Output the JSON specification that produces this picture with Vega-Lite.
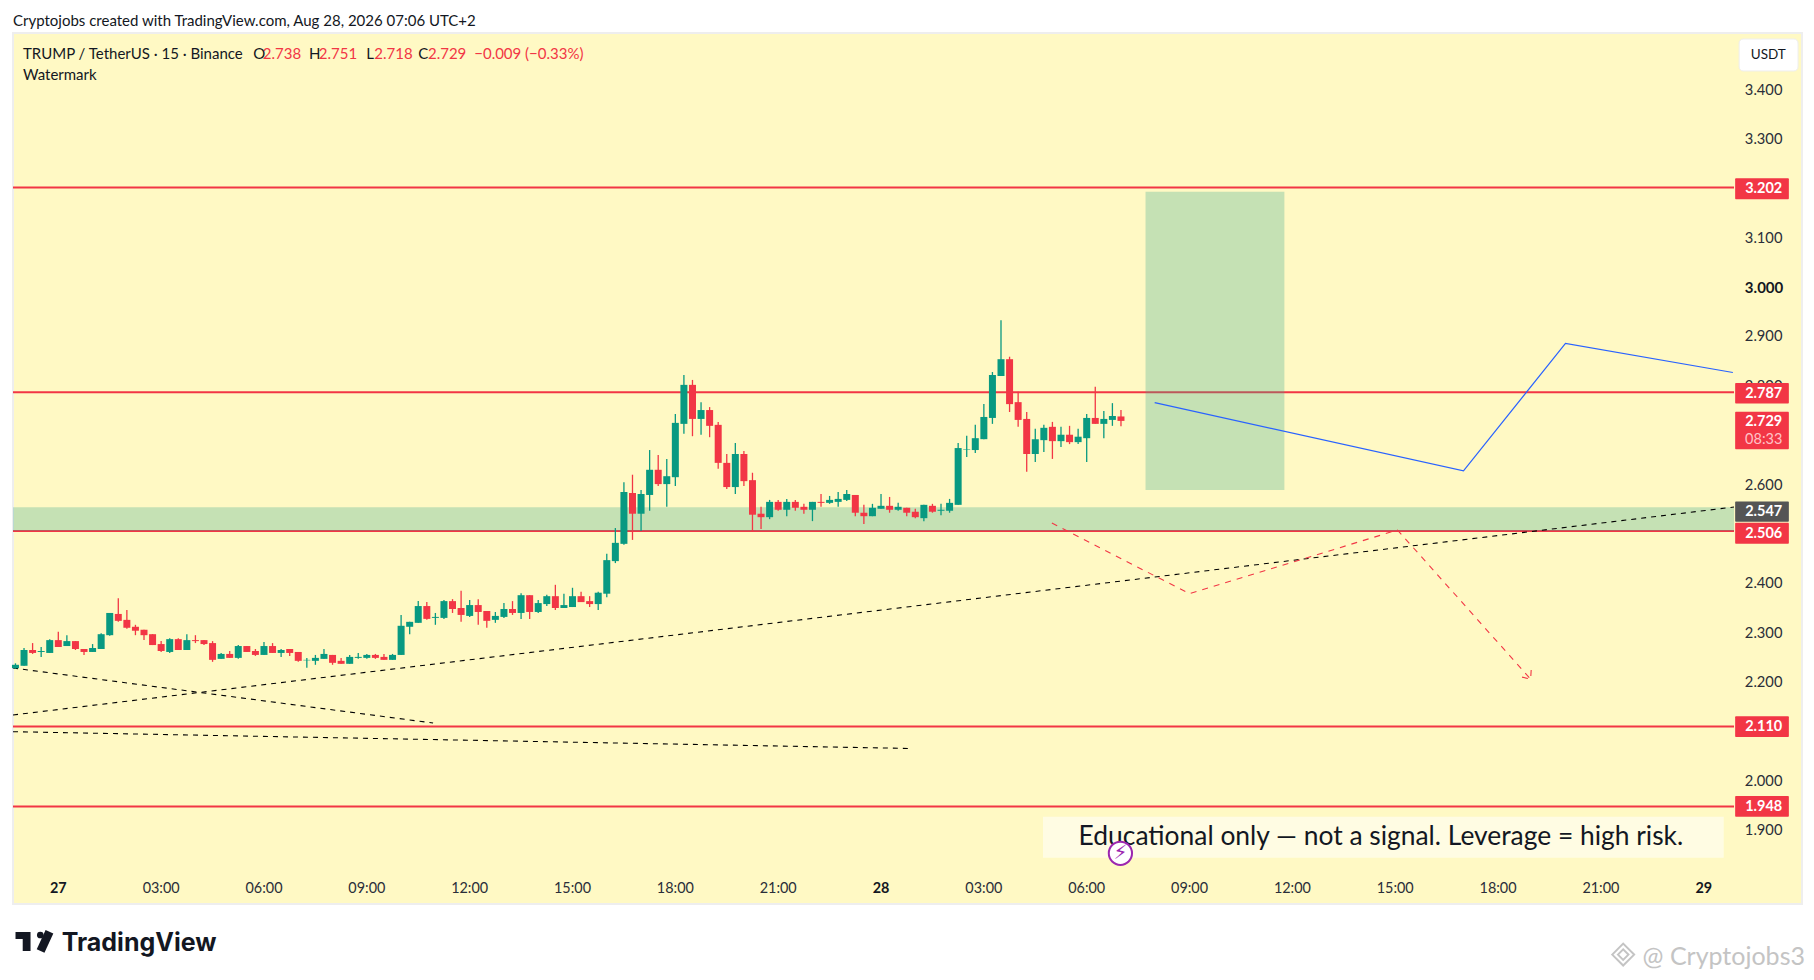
{
"$schema":"https://vega.github.io/schema/vega-lite/v6.json",
"autosize":{"type":"none"},
"padding":{"left":13,"top":33,"right":12,"bottom":76},
"width":1789,"height":871,
"background":"#ffffff",
"view":{"fill":"#FFF9C4","stroke":"#eeeeee","strokeWidth":2},
"datasets":{
"candles":[
{"t":"2026-08-26T22:45Z","o":2.228,"h":2.238,"l":2.227,"c":2.235},
{"t":"2026-08-26T23:00Z","o":2.233,"h":2.269,"l":2.233,"c":2.265},
{"t":"2026-08-26T23:15Z","o":2.265,"h":2.279,"l":2.257,"c":2.259},
{"t":"2026-08-26T23:30Z","o":2.261,"h":2.271,"l":2.251,"c":2.263},
{"t":"2026-08-26T23:45Z","o":2.259,"h":2.287,"l":2.259,"c":2.285},
{"t":"2026-08-27T00:00Z","o":2.285,"h":2.302,"l":2.271,"c":2.271},
{"t":"2026-08-27T00:15Z","o":2.273,"h":2.295,"l":2.273,"c":2.283},
{"t":"2026-08-27T00:30Z","o":2.283,"h":2.283,"l":2.265,"c":2.267},
{"t":"2026-08-27T00:45Z","o":2.267,"h":2.267,"l":2.255,"c":2.261},
{"t":"2026-08-27T01:00Z","o":2.261,"h":2.277,"l":2.261,"c":2.269},
{"t":"2026-08-27T01:15Z","o":2.267,"h":2.299,"l":2.267,"c":2.297},
{"t":"2026-08-27T01:30Z","o":2.295,"h":2.340,"l":2.294,"c":2.340},
{"t":"2026-08-27T01:45Z","o":2.338,"h":2.370,"l":2.322,"c":2.324},
{"t":"2026-08-27T02:00Z","o":2.326,"h":2.346,"l":2.308,"c":2.310},
{"t":"2026-08-27T02:15Z","o":2.312,"h":2.316,"l":2.295,"c":2.304},
{"t":"2026-08-27T02:30Z","o":2.306,"h":2.306,"l":2.285,"c":2.295},
{"t":"2026-08-27T02:45Z","o":2.297,"h":2.297,"l":2.275,"c":2.275},
{"t":"2026-08-27T03:00Z","o":2.277,"h":2.283,"l":2.261,"c":2.263},
{"t":"2026-08-27T03:15Z","o":2.261,"h":2.289,"l":2.259,"c":2.287},
{"t":"2026-08-27T03:30Z","o":2.287,"h":2.289,"l":2.265,"c":2.265},
{"t":"2026-08-27T03:45Z","o":2.265,"h":2.297,"l":2.265,"c":2.285},
{"t":"2026-08-27T04:00Z","o":2.285,"h":2.295,"l":2.279,"c":2.283},
{"t":"2026-08-27T04:15Z","o":2.285,"h":2.285,"l":2.275,"c":2.277},
{"t":"2026-08-27T04:30Z","o":2.279,"h":2.283,"l":2.241,"c":2.245},
{"t":"2026-08-27T04:45Z","o":2.247,"h":2.259,"l":2.247,"c":2.257},
{"t":"2026-08-27T05:00Z","o":2.257,"h":2.263,"l":2.249,"c":2.249},
{"t":"2026-08-27T05:15Z","o":2.249,"h":2.275,"l":2.247,"c":2.273},
{"t":"2026-08-27T05:30Z","o":2.273,"h":2.273,"l":2.261,"c":2.261},
{"t":"2026-08-27T05:45Z","o":2.263,"h":2.267,"l":2.253,"c":2.255},
{"t":"2026-08-27T06:00Z","o":2.255,"h":2.281,"l":2.255,"c":2.273},
{"t":"2026-08-27T06:15Z","o":2.273,"h":2.279,"l":2.259,"c":2.259},
{"t":"2026-08-27T06:30Z","o":2.259,"h":2.267,"l":2.251,"c":2.265},
{"t":"2026-08-27T06:45Z","o":2.267,"h":2.267,"l":2.253,"c":2.259},
{"t":"2026-08-27T07:00Z","o":2.261,"h":2.261,"l":2.241,"c":2.243},
{"t":"2026-08-27T07:15Z","o":2.244,"h":2.249,"l":2.229,"c":2.245},
{"t":"2026-08-27T07:30Z","o":2.243,"h":2.255,"l":2.235,"c":2.249},
{"t":"2026-08-27T07:45Z","o":2.247,"h":2.267,"l":2.247,"c":2.257},
{"t":"2026-08-27T08:00Z","o":2.255,"h":2.255,"l":2.235,"c":2.239},
{"t":"2026-08-27T08:15Z","o":2.243,"h":2.249,"l":2.237,"c":2.237},
{"t":"2026-08-27T08:30Z","o":2.237,"h":2.255,"l":2.237,"c":2.251},
{"t":"2026-08-27T08:45Z","o":2.249,"h":2.259,"l":2.247,"c":2.251},
{"t":"2026-08-27T09:00Z","o":2.249,"h":2.257,"l":2.247,"c":2.255},
{"t":"2026-08-27T09:15Z","o":2.255,"h":2.257,"l":2.247,"c":2.249},
{"t":"2026-08-27T09:30Z","o":2.251,"h":2.257,"l":2.245,"c":2.245},
{"t":"2026-08-27T09:45Z","o":2.245,"h":2.257,"l":2.245,"c":2.255},
{"t":"2026-08-27T10:00Z","o":2.255,"h":2.336,"l":2.255,"c":2.314},
{"t":"2026-08-27T10:15Z","o":2.312,"h":2.322,"l":2.297,"c":2.322},
{"t":"2026-08-27T10:30Z","o":2.320,"h":2.364,"l":2.320,"c":2.354},
{"t":"2026-08-27T10:45Z","o":2.354,"h":2.362,"l":2.326,"c":2.328},
{"t":"2026-08-27T11:00Z","o":2.330,"h":2.340,"l":2.316,"c":2.332},
{"t":"2026-08-27T11:15Z","o":2.330,"h":2.366,"l":2.328,"c":2.364},
{"t":"2026-08-27T11:30Z","o":2.364,"h":2.368,"l":2.340,"c":2.348},
{"t":"2026-08-27T11:45Z","o":2.350,"h":2.385,"l":2.322,"c":2.336},
{"t":"2026-08-27T12:00Z","o":2.334,"h":2.366,"l":2.332,"c":2.356},
{"t":"2026-08-27T12:15Z","o":2.356,"h":2.368,"l":2.316,"c":2.342},
{"t":"2026-08-27T12:30Z","o":2.344,"h":2.344,"l":2.310,"c":2.324},
{"t":"2026-08-27T12:45Z","o":2.326,"h":2.342,"l":2.320,"c":2.334},
{"t":"2026-08-27T13:00Z","o":2.332,"h":2.360,"l":2.330,"c":2.348},
{"t":"2026-08-27T13:15Z","o":2.348,"h":2.364,"l":2.336,"c":2.340},
{"t":"2026-08-27T13:30Z","o":2.340,"h":2.380,"l":2.328,"c":2.376},
{"t":"2026-08-27T13:45Z","o":2.376,"h":2.376,"l":2.328,"c":2.342},
{"t":"2026-08-27T14:00Z","o":2.342,"h":2.366,"l":2.340,"c":2.360},
{"t":"2026-08-27T14:15Z","o":2.358,"h":2.377,"l":2.354,"c":2.374},
{"t":"2026-08-27T14:30Z","o":2.374,"h":2.397,"l":2.346,"c":2.350},
{"t":"2026-08-27T14:45Z","o":2.350,"h":2.379,"l":2.350,"c":2.356},
{"t":"2026-08-27T15:00Z","o":2.352,"h":2.391,"l":2.352,"c":2.374},
{"t":"2026-08-27T15:15Z","o":2.374,"h":2.383,"l":2.362,"c":2.362},
{"t":"2026-08-27T15:30Z","o":2.364,"h":2.374,"l":2.352,"c":2.358},
{"t":"2026-08-27T15:45Z","o":2.358,"h":2.383,"l":2.346,"c":2.381},
{"t":"2026-08-27T16:00Z","o":2.379,"h":2.460,"l":2.372,"c":2.447},
{"t":"2026-08-27T16:15Z","o":2.445,"h":2.512,"l":2.441,"c":2.482},
{"t":"2026-08-27T16:30Z","o":2.480,"h":2.605,"l":2.478,"c":2.585},
{"t":"2026-08-27T16:45Z","o":2.583,"h":2.620,"l":2.488,"c":2.541},
{"t":"2026-08-27T17:00Z","o":2.541,"h":2.589,"l":2.506,"c":2.581},
{"t":"2026-08-27T17:15Z","o":2.579,"h":2.670,"l":2.547,"c":2.630},
{"t":"2026-08-27T17:30Z","o":2.630,"h":2.660,"l":2.597,"c":2.601},
{"t":"2026-08-27T17:45Z","o":2.601,"h":2.652,"l":2.555,"c":2.617},
{"t":"2026-08-27T18:00Z","o":2.615,"h":2.743,"l":2.597,"c":2.725},
{"t":"2026-08-27T18:15Z","o":2.723,"h":2.822,"l":2.703,"c":2.802},
{"t":"2026-08-27T18:30Z","o":2.802,"h":2.812,"l":2.698,"c":2.733},
{"t":"2026-08-27T18:45Z","o":2.733,"h":2.767,"l":2.701,"c":2.751},
{"t":"2026-08-27T19:00Z","o":2.751,"h":2.757,"l":2.696,"c":2.719},
{"t":"2026-08-27T19:15Z","o":2.721,"h":2.727,"l":2.632,"c":2.644},
{"t":"2026-08-27T19:30Z","o":2.644,"h":2.662,"l":2.591,"c":2.595},
{"t":"2026-08-27T19:45Z","o":2.595,"h":2.684,"l":2.581,"c":2.662},
{"t":"2026-08-27T20:00Z","o":2.662,"h":2.668,"l":2.597,"c":2.607},
{"t":"2026-08-27T20:15Z","o":2.609,"h":2.624,"l":2.506,"c":2.539},
{"t":"2026-08-27T20:30Z","o":2.541,"h":2.555,"l":2.510,"c":2.534},
{"t":"2026-08-27T20:45Z","o":2.534,"h":2.569,"l":2.530,"c":2.565},
{"t":"2026-08-27T21:00Z","o":2.565,"h":2.569,"l":2.547,"c":2.549},
{"t":"2026-08-27T21:15Z","o":2.549,"h":2.571,"l":2.536,"c":2.565},
{"t":"2026-08-27T21:30Z","o":2.565,"h":2.569,"l":2.547,"c":2.553},
{"t":"2026-08-27T21:45Z","o":2.555,"h":2.561,"l":2.541,"c":2.549},
{"t":"2026-08-27T22:00Z","o":2.549,"h":2.565,"l":2.526,"c":2.565},
{"t":"2026-08-27T22:15Z","o":2.565,"h":2.581,"l":2.555,"c":2.563},
{"t":"2026-08-27T22:30Z","o":2.563,"h":2.577,"l":2.561,"c":2.569},
{"t":"2026-08-27T22:45Z","o":2.565,"h":2.585,"l":2.555,"c":2.571},
{"t":"2026-08-27T23:00Z","o":2.569,"h":2.589,"l":2.567,"c":2.581},
{"t":"2026-08-27T23:15Z","o":2.579,"h":2.579,"l":2.536,"c":2.543},
{"t":"2026-08-27T23:30Z","o":2.543,"h":2.559,"l":2.520,"c":2.536},
{"t":"2026-08-27T23:45Z","o":2.536,"h":2.561,"l":2.536,"c":2.553},
{"t":"2026-08-28T00:00Z","o":2.551,"h":2.581,"l":2.551,"c":2.557},
{"t":"2026-08-28T00:15Z","o":2.557,"h":2.575,"l":2.543,"c":2.549},
{"t":"2026-08-28T00:30Z","o":2.549,"h":2.563,"l":2.547,"c":2.555},
{"t":"2026-08-28T00:45Z","o":2.553,"h":2.553,"l":2.536,"c":2.543},
{"t":"2026-08-28T01:00Z","o":2.545,"h":2.551,"l":2.532,"c":2.534},
{"t":"2026-08-28T01:15Z","o":2.532,"h":2.559,"l":2.526,"c":2.559},
{"t":"2026-08-28T01:30Z","o":2.557,"h":2.561,"l":2.543,"c":2.545},
{"t":"2026-08-28T01:45Z","o":2.547,"h":2.561,"l":2.538,"c":2.549},
{"t":"2026-08-28T02:00Z","o":2.547,"h":2.571,"l":2.543,"c":2.563},
{"t":"2026-08-28T02:15Z","o":2.559,"h":2.684,"l":2.559,"c":2.674},
{"t":"2026-08-28T02:30Z","o":2.671,"h":2.699,"l":2.656,"c":2.672},
{"t":"2026-08-28T02:45Z","o":2.670,"h":2.721,"l":2.664,"c":2.694},
{"t":"2026-08-28T03:00Z","o":2.692,"h":2.763,"l":2.692,"c":2.737},
{"t":"2026-08-28T03:15Z","o":2.735,"h":2.828,"l":2.723,"c":2.822},
{"t":"2026-08-28T03:30Z","o":2.820,"h":2.933,"l":2.820,"c":2.854},
{"t":"2026-08-28T03:45Z","o":2.854,"h":2.859,"l":2.747,"c":2.763},
{"t":"2026-08-28T04:00Z","o":2.767,"h":2.788,"l":2.717,"c":2.731},
{"t":"2026-08-28T04:15Z","o":2.733,"h":2.747,"l":2.626,"c":2.662},
{"t":"2026-08-28T04:30Z","o":2.662,"h":2.713,"l":2.646,"c":2.692},
{"t":"2026-08-28T04:45Z","o":2.690,"h":2.721,"l":2.666,"c":2.715},
{"t":"2026-08-28T05:00Z","o":2.717,"h":2.727,"l":2.652,"c":2.688},
{"t":"2026-08-28T05:15Z","o":2.688,"h":2.717,"l":2.676,"c":2.701},
{"t":"2026-08-28T05:30Z","o":2.701,"h":2.719,"l":2.682,"c":2.686},
{"t":"2026-08-28T05:45Z","o":2.686,"h":2.713,"l":2.682,"c":2.697},
{"t":"2026-08-28T06:00Z","o":2.694,"h":2.743,"l":2.646,"c":2.735},
{"t":"2026-08-28T06:15Z","o":2.735,"h":2.798,"l":2.723,"c":2.723},
{"t":"2026-08-28T06:30Z","o":2.723,"h":2.749,"l":2.694,"c":2.733},
{"t":"2026-08-28T06:45Z","o":2.731,"h":2.765,"l":2.719,"c":2.739},
{"t":"2026-08-28T07:00Z","o":2.738,"h":2.751,"l":2.718,"c":2.729}
],
"levels":[
{"t":"2026-08-26T22:40:42Z","t2":"2026-08-29T00:53Z","v":3.202},
{"t":"2026-08-26T22:40:42Z","t2":"2026-08-29T00:53Z","v":2.787},
{"t":"2026-08-26T22:40:42Z","t2":"2026-08-29T00:53Z","v":2.506},
{"t":"2026-08-26T22:40:42Z","t2":"2026-08-29T00:53Z","v":2.110},
{"t":"2026-08-26T22:40:42Z","t2":"2026-08-29T00:53Z","v":1.948}
],
"zones":[
{"t":"2026-08-26T22:40:42Z","t2":"2026-08-29T00:53Z","v":2.506,"v2":2.554},
{"t":"2026-08-28T07:43Z","t2":"2026-08-28T11:46Z","v":2.589,"v2":3.193}
],
"blue":[
{"t":"2026-08-28T07:59Z","v":2.766},
{"t":"2026-08-28T16:59:30Z","v":2.628},
{"t":"2026-08-28T19:58Z","v":2.886},
{"t":"2026-08-29T00:51Z","v":2.827}
],
"reddash":[
{"t":"2026-08-28T04:59Z","v":2.522,"g":"path"},
{"t":"2026-08-28T09:00Z","v":2.379,"g":"path"},
{"t":"2026-08-28T15:04Z","v":2.508,"g":"path"},
{"t":"2026-08-28T18:57Z","v":2.206,"g":"path"},
{"t":"2026-08-28T18:42Z","v":2.210,"g":"head"},
{"t":"2026-08-28T18:57Z","v":2.206,"g":"head"},
{"t":"2026-08-28T18:58Z","v":2.2245,"g":"head"}
],
"blackdash":[
{"t":"2026-08-26T22:40:42Z","v":2.1333,"g":"a"},
{"t":"2026-08-29T00:53Z","v":2.5546,"g":"a"},
{"t":"2026-08-26T22:40:42Z","v":2.2285,"g":"b"},
{"t":"2026-08-27T10:56Z","v":2.1171,"g":"b"},
{"t":"2026-08-26T22:40:42Z","v":2.0995,"g":"c"},
{"t":"2026-08-28T00:50Z","v":2.0655,"g":"c"}
],
"redtags":[
{"t":"2026-08-29T00:55Z","t2":"2026-08-29T02:29Z","v":3.2204,"v2":3.178},
{"t":"2026-08-29T00:55Z","t2":"2026-08-29T02:29Z","v":2.806,"v2":2.7644},
{"t":"2026-08-29T00:55Z","t2":"2026-08-29T02:29Z","v":2.7476,"v2":2.6715},
{"t":"2026-08-29T00:55Z","t2":"2026-08-29T02:29Z","v":2.5226,"v2":2.480},
{"t":"2026-08-29T00:55Z","t2":"2026-08-29T02:29Z","v":2.131,"v2":2.089},
{"t":"2026-08-29T00:55Z","t2":"2026-08-29T02:29Z","v":1.9695,"v2":1.927}
],
"greytag":[{"t":"2026-08-29T00:55Z","t2":"2026-08-29T02:29Z","v":2.566,"v2":2.5248}],
"taglabels":[
{"t":"2026-08-29T01:45Z","v":3.198,"label":"3.202"},
{"t":"2026-08-29T01:45Z","v":2.784,"label":"2.787"},
{"t":"2026-08-29T01:45Z","v":2.7258,"label":"2.729"},
{"t":"2026-08-29T01:45Z","v":2.5447,"label":"2.547"},
{"t":"2026-08-29T01:45Z","v":2.5005,"label":"2.506"},
{"t":"2026-08-29T01:45Z","v":2.108,"label":"2.110"},
{"t":"2026-08-29T01:45Z","v":1.946,"label":"1.948"}
],
"timer":[{"t":"2026-08-29T01:45Z","v":2.6907,"label":"08:33"}],
"usdtbox":[{"t":"2026-08-29T01:02Z","t2":"2026-08-29T02:45Z","v":3.5025,"v2":3.4378}],
"usdt":[{"t":"2026-08-29T01:53Z","v":3.4702,"label":"USDT"}],
"dark":[
{"t":"2026-08-26T22:58:12Z","v":3.472,"label":"TRUMP / TetherUS · 15 · Binance"},
{"t":"2026-08-27T05:41Z","v":3.472,"label":"O"},
{"t":"2026-08-27T07:19Z","v":3.472,"label":"H"},
{"t":"2026-08-27T08:59Z","v":3.472,"label":"L"},
{"t":"2026-08-27T10:30Z","v":3.472,"label":"C"},
{"t":"2026-08-26T22:58:12Z","v":3.4296,"label":"Watermark"},
{"t":"2026-08-26T22:40:42Z","v":3.5384,"label":"Cryptojobs created with TradingView.com, Aug 28, 2026 07:06 UTC+2"}
],
"redtext":[
{"t":"2026-08-27T05:58Z","v":3.472,"label":"2.738"},
{"t":"2026-08-27T07:36Z","v":3.472,"label":"2.751"},
{"t":"2026-08-27T09:13Z","v":3.472,"label":"2.718"},
{"t":"2026-08-27T10:47Z","v":3.472,"label":"2.729"},
{"t":"2026-08-27T12:08Z","v":3.472,"label":"−0.009 (−0.33%)"}
],
"xticks":[
{"t":"2026-08-27T03:00Z","v":1.781,"label":"03:00"},
{"t":"2026-08-27T06:00Z","v":1.781,"label":"06:00"},
{"t":"2026-08-27T09:00Z","v":1.781,"label":"09:00"},
{"t":"2026-08-27T12:00Z","v":1.781,"label":"12:00"},
{"t":"2026-08-27T15:00Z","v":1.781,"label":"15:00"},
{"t":"2026-08-27T18:00Z","v":1.781,"label":"18:00"},
{"t":"2026-08-27T21:00Z","v":1.781,"label":"21:00"},
{"t":"2026-08-28T03:00Z","v":1.781,"label":"03:00"},
{"t":"2026-08-28T06:00Z","v":1.781,"label":"06:00"},
{"t":"2026-08-28T09:00Z","v":1.781,"label":"09:00"},
{"t":"2026-08-28T12:00Z","v":1.781,"label":"12:00"},
{"t":"2026-08-28T15:00Z","v":1.781,"label":"15:00"},
{"t":"2026-08-28T18:00Z","v":1.781,"label":"18:00"},
{"t":"2026-08-28T21:00Z","v":1.781,"label":"21:00"}
],
"boldticks":[
{"t":"2026-08-27T00:00Z","v":1.781,"label":"27"},
{"t":"2026-08-28T00:00Z","v":1.781,"label":"28"},
{"t":"2026-08-29T00:00Z","v":1.781,"label":"29"}
],
"yticks":[
{"t":"2026-08-29T01:12Z","v":3.398,"label":"3.400"},
{"t":"2026-08-29T01:12Z","v":3.298,"label":"3.300"},
{"t":"2026-08-29T01:12Z","v":3.098,"label":"3.100"},
{"t":"2026-08-29T01:12Z","v":2.898,"label":"2.900"},
{"t":"2026-08-29T01:12Z","v":2.798,"label":"2.800"},
{"t":"2026-08-29T01:12Z","v":2.598,"label":"2.600"},
{"t":"2026-08-29T01:12Z","v":2.398,"label":"2.400"},
{"t":"2026-08-29T01:12Z","v":2.298,"label":"2.300"},
{"t":"2026-08-29T01:12Z","v":2.198,"label":"2.200"},
{"t":"2026-08-29T01:12Z","v":1.998,"label":"2.000"},
{"t":"2026-08-29T01:12Z","v":1.898,"label":"1.900"}
],
"boldprice":[{"t":"2026-08-29T01:12Z","v":2.998,"label":"3.000"}],
"notebox":[{"t":"2026-08-28T04:43:30Z","t2":"2026-08-29T00:35Z","v":1.9273,"v2":1.8443}],
"note":[{"t":"2026-08-28T14:35Z","v":1.8862,"label":"Educational only — not a signal. Leverage  = high risk."}],
"bolt":[{"t":"2026-08-28T06:59Z","v":1.8532,"label":"⚡"}],
"brand":[{"t":"2026-08-27T00:06Z","v":1.6721,"label":"TradingView"}],
"brandrect":[
{"t":"2026-08-26T22:45:06Z","t2":"2026-08-26T23:11:24Z","v":1.6938,"v2":1.6796},
{"t":"2026-08-26T22:57:42Z","t2":"2026-08-26T23:11:24Z","v":1.6796,"v2":1.6553}
],
"branddot":[{"t":"2026-08-26T23:28:30Z","v":1.6877}],
"brandslash":[{"t":"2026-08-26T23:44:30Z","v":1.6945},{"t":"2026-08-26T23:29:00Z","v":1.6553}],
"credit":[{"t":"2026-08-28T22:13Z","v":1.6438,"label":"@ Cryptojobs3"}],
"crediticon":[{"t":"2026-08-28T21:39Z","v":1.648}]
},
"encoding":{
"x":{"field":"t","type":"temporal","title":null,"axis":null,
"scale":{"type":"utc","domain":["2026-08-26T22:40:42Z","2026-08-29T02:52:00Z"],"nice":false,"padding":0}},
"y":{"field":"v","type":"quantitative","title":null,"axis":null,
"scale":{"domain":[1.7505,3.5147],"nice":false,"zero":false}}
},
"layer":[
{"data":{"name":"levels"},"mark":{"type":"rule","color":"#F23645","strokeWidth":2},"encoding":{"x2":{"field":"t2"}}},
{"data":{"name":"zones"},"mark":{"type":"rect","color":"#3ea98f","opacity":0.3},"encoding":{"x2":{"field":"t2"},"y2":{"field":"v2"}}},
{"data":{"name":"blackdash"},"mark":{"type":"line","color":"#000000","strokeWidth":1.1,"strokeDash":[5,5]},"encoding":{"detail":{"field":"g"},"order":{"field":"t","type":"temporal"}}},
{"data":{"name":"blue"},"mark":{"type":"line","color":"#2962FF","strokeWidth":1.2},"encoding":{}},
{"data":{"name":"reddash"},"mark":{"type":"line","color":"#F23645","strokeWidth":1.1,"strokeDash":[6,6]},"encoding":{"detail":{"field":"g"},"order":{"field":"t","type":"temporal"}}},
{"data":{"name":"candles"},"mark":{"type":"rule","strokeWidth":1.3},"encoding":{
"y":{"field":"h","type":"quantitative","axis":null,"scale":{"domain":[1.7505,3.5147],"nice":false,"zero":false}},"y2":{"field":"l"},
"color":{"condition":{"test":"datum.c>=datum.o","value":"#089981"},"value":"#F23645"}}},
{"data":{"name":"candles"},"mark":{"type":"bar","size":7},"encoding":{
"y":{"field":"o","type":"quantitative","axis":null,"scale":{"domain":[1.7505,3.5147],"nice":false,"zero":false}},"y2":{"field":"c"},
"color":{"condition":{"test":"datum.c>=datum.o","value":"#089981"},"value":"#F23645"}}},
{"data":{"name":"notebox"},"mark":{"type":"rect","color":"#FFFCE3"},"encoding":{"x2":{"field":"t2"},"y2":{"field":"v2"}}},
{"data":{"name":"note"},"mark":{"type":"text","color":"#131722","fontSize":26.4,"align":"center","baseline":"middle","font":"Lato"},"encoding":{"text":{"field":"label"}}},
{"data":{"name":"bolt"},"mark":{"type":"point","shape":"circle","filled":true,"fill":"#ffffff","stroke":"#9C27B0","strokeWidth":2,"size":540,"opacity":1},"encoding":{}},
{"data":{"name":"bolt"},"mark":{"type":"text","color":"#9C27B0","fontSize":20,"align":"center","baseline":"middle","font":"DejaVu Sans"},"encoding":{"text":{"field":"label"}}},
{"data":{"name":"xticks"},"mark":{"type":"text","color":"#2a2e39","fontSize":14.4,"align":"center","baseline":"middle","font":"Lato"},"encoding":{"text":{"field":"label"}}},
{"data":{"name":"boldticks"},"mark":{"type":"text","color":"#131722","fontSize":14.4,"fontWeight":"bold","align":"center","baseline":"middle","font":"Lato"},"encoding":{"text":{"field":"label"}}},
{"data":{"name":"yticks"},"mark":{"type":"text","color":"#2a2e39","fontSize":14.7,"align":"left","baseline":"middle","font":"Lato"},"encoding":{"text":{"field":"label"}}},
{"data":{"name":"boldprice"},"mark":{"type":"text","color":"#131722","fontSize":15,"fontWeight":"bold","align":"left","baseline":"middle","font":"Lato"},"encoding":{"text":{"field":"label"}}},
{"data":{"name":"redtags"},"mark":{"type":"rect","color":"#F23645","cornerRadius":1},"encoding":{"x2":{"field":"t2"},"y2":{"field":"v2"}}},
{"data":{"name":"greytag"},"mark":{"type":"rect","color":"#555555","cornerRadius":1},"encoding":{"x2":{"field":"t2"},"y2":{"field":"v2"}}},
{"data":{"name":"taglabels"},"mark":{"type":"text","color":"#ffffff","fontSize":14.5,"align":"center","baseline":"middle","font":"Lato","fontWeight":"bold"},"encoding":{"text":{"field":"label"}}},
{"data":{"name":"timer"},"mark":{"type":"text","color":"#ffc2c7","fontSize":14.5,"align":"center","baseline":"middle","font":"Lato"},"encoding":{"text":{"field":"label"}}},
{"data":{"name":"usdtbox"},"mark":{"type":"rect","color":"#ffffff","stroke":"#eeeeee","cornerRadius":4},"encoding":{"x2":{"field":"t2"},"y2":{"field":"v2"}}},
{"data":{"name":"usdt"},"mark":{"type":"text","color":"#131722","fontSize":13.5,"align":"center","baseline":"middle","font":"Lato"},"encoding":{"text":{"field":"label"}}},
{"data":{"name":"dark"},"mark":{"type":"text","color":"#131722","fontSize":15,"align":"left","baseline":"middle","font":"Lato"},"encoding":{"text":{"field":"label"}}},
{"data":{"name":"redtext"},"mark":{"type":"text","color":"#F23645","fontSize":15,"align":"left","baseline":"middle","font":"Lato"},"encoding":{"text":{"field":"label"}}},
{"data":{"name":"brand"},"mark":{"type":"text","color":"#131722","fontSize":25,"fontWeight":"bold","align":"left","baseline":"middle","font":"Inter"},"encoding":{"text":{"field":"label"}}},
{"data":{"name":"brandrect"},"mark":{"type":"rect","color":"#131722"},"encoding":{"x2":{"field":"t2"},"y2":{"field":"v2"}}},
{"data":{"name":"branddot"},"mark":{"type":"point","shape":"circle","filled":true,"color":"#131722","size":45,"opacity":1},"encoding":{}},
{"data":{"name":"brandslash"},"mark":{"type":"line","color":"#131722","strokeWidth":8.5},"encoding":{}},
{"data":{"name":"credit"},"mark":{"type":"text","color":"#c4c4c4","fontSize":25,"align":"left","baseline":"middle","font":"Lato"},"encoding":{"text":{"field":"label"}}},
{"data":{"name":"crediticon"},"mark":{"type":"point","shape":"diamond","filled":false,"color":"#c4c4c4","size":480,"strokeWidth":2,"opacity":1},"encoding":{}},
{"data":{"name":"crediticon"},"mark":{"type":"point","shape":"diamond","filled":false,"color":"#c4c4c4","size":110,"strokeWidth":2,"opacity":1},"encoding":{}}
]
}
